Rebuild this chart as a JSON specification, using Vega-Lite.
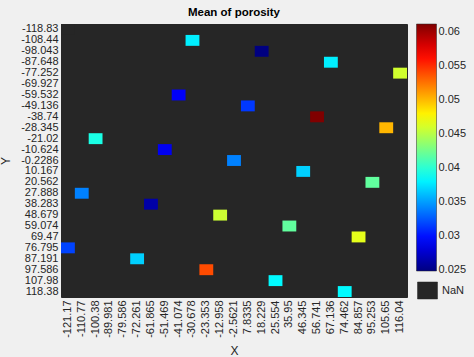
{
  "$schema": "https://vega.github.io/schema/vega-lite/v6.json",
  "autosize": {"type": "none"},
  "padding": {"left": 61, "top": 24, "right": 67, "bottom": 60},
  "width": 346,
  "height": 273,
  "background": "#F0F0F0",
  "title": {"text": "Mean of porosity", "fontSize": 11.5, "fontWeight": "bold", "font": "Liberation Sans", "color": "#000000", "offset": 4},
  "config": {
    "view": {"fill": "#262626", "stroke": "#262626"},
    "font": "Liberation Sans",
    "axis": {"labelFont": "Liberation Sans", "labelFontSize": 11, "labelColor": "#262626", "ticks": false, "domain": false, "grid": false, "titleFont": "Liberation Sans", "titleFontSize": 12, "titleFontWeight": "normal", "titleColor": "#262626"},
    "legend": {"labelFont": "Liberation Sans", "labelFontSize": 11, "labelColor": "#262626"}
  },
  "datasets": {
    "cells": [
      {"x": "-30.678", "y": "-108.44", "porosity": 0.0379},
      {"x": "18.229", "y": "-98.043", "porosity": 0.0249},
      {"x": "67.136", "y": "-87.648", "porosity": 0.0379},
      {"x": "116.04", "y": "-77.252", "porosity": 0.0459},
      {"x": "-41.074", "y": "-59.532", "porosity": 0.0292},
      {"x": "7.8335", "y": "-49.136", "porosity": 0.0314},
      {"x": "56.741", "y": "-38.74", "porosity": 0.0611},
      {"x": "105.65", "y": "-28.345", "porosity": 0.0501},
      {"x": "-100.38", "y": "-21.02", "porosity": 0.0394},
      {"x": "-51.469", "y": "-10.624", "porosity": 0.0289},
      {"x": "-2.5621", "y": "-0.2286", "porosity": 0.034},
      {"x": "46.345", "y": "10.167", "porosity": 0.0368},
      {"x": "95.253", "y": "20.562", "porosity": 0.0419},
      {"x": "-110.77", "y": "27.888", "porosity": 0.034},
      {"x": "-61.865", "y": "38.283", "porosity": 0.0263},
      {"x": "-12.958", "y": "48.679", "porosity": 0.0457},
      {"x": "35.95", "y": "59.074", "porosity": 0.0419},
      {"x": "84.857", "y": "69.47", "porosity": 0.0466},
      {"x": "-121.17", "y": "76.795", "porosity": 0.0318},
      {"x": "-72.261", "y": "87.191", "porosity": 0.0368},
      {"x": "-23.353", "y": "97.586", "porosity": 0.0539},
      {"x": "25.554", "y": "107.98", "porosity": 0.0383},
      {"x": "74.462", "y": "118.38", "porosity": 0.0383}
    ],
    "missing": [
      {"x": "-121.17", "y": "-118.83", "status": "NaN"}
    ]
  },
  "encoding": {
    "x": {
      "field": "x", "type": "ordinal", "title": "X",
      "scale": {"domain": ["-121.17","-110.77","-100.38","-89.981","-79.586","-72.261","-61.865","-51.469","-41.074","-30.678","-23.353","-12.958","-2.5621","7.8335","18.229","25.554","35.95","46.345","56.741","67.136","74.462","84.857","95.253","105.65","116.04"], "paddingInner": 0, "paddingOuter": 0},
      "axis": {"labelAngle": 270, "labelPadding": 3, "titleY": 53, "titleBaseline": "middle"}
    },
    "y": {
      "field": "y", "type": "ordinal", "title": "Y",
      "scale": {"domain": ["-118.83","-108.44","-98.043","-87.648","-77.252","-69.927","-59.532","-49.136","-38.74","-28.345","-21.02","-10.624","-0.2286","10.167","20.562","27.888","38.283","48.679","59.074","69.47","76.795","87.191","97.586","107.98","118.38"], "paddingInner": 0, "paddingOuter": 0},
      "axis": {"labelPadding": 3, "titleX": -56, "titleY": 136.5, "titleBaseline": "middle", "titleAngle": 270}
    }
  },
  "layer": [
    {
      "data": {"name": "missing"},
      "mark": {"type": "rect"},
      "encoding": {
        "fill": {"field": "status", "type": "nominal", "scale": {"domain": ["NaN"], "range": ["#262626"]},
          "legend": {"orient": "none", "legendX": 356, "legendY": 256, "title": null, "padding": 0, "symbolType": "M-1,-0.85H1V0.85H-1Z", "symbolSize": 400, "symbolStrokeColor": "#262626", "symbolStrokeWidth": 0.5, "labelOffset": 4}}
      }
    },
    {
      "data": {"name": "cells"},
      "mark": {"type": "rect"},
      "encoding": {
        "color": {
          "field": "porosity", "type": "quantitative",
          "scale": {"domain": [0.0249, 0.029425, 0.038475, 0.047525, 0.056575, 0.0611], "range": ["#000080", "#0000FF", "#00FFFF", "#FFFF00", "#FF0000", "#800000"], "interpolate": "rgb"},
          "legend": {"orient": "none", "legendX": 355.5, "legendY": 0, "title": null, "padding": 0, "gradientLength": 247, "gradientThickness": 20, "gradientStrokeColor": "#262626", "gradientStrokeWidth": 0.5, "values": [0.025, 0.03, 0.035, 0.04, 0.045, 0.05, 0.055, 0.06], "labelExpr": "toString(datum.value)", "labelOverlap": false, "labelOffset": 2}
        }
      }
    }
  ]
}
